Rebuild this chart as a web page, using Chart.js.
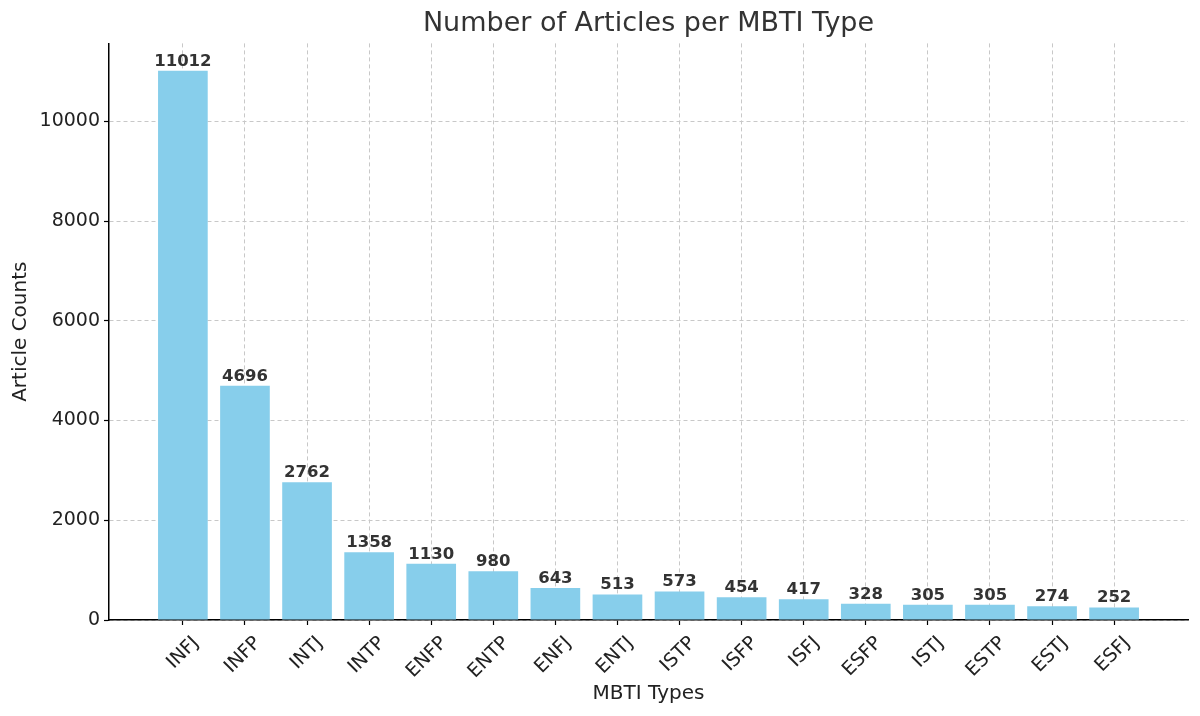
<!DOCTYPE html>
<html>
<head>
<meta charset="utf-8">
<script src="https://cdn.jsdelivr.net/npm/chart.js@4.4.1/dist/chart.umd.min.js"></script>
<style>
  html, body { margin: 0; padding: 0; background: #fff; }
</style>
</head>
<body>
<canvas id="mbtiChart" width="1200" height="716"></canvas>
<script>
const mbtiTypes = ['INFJ', 'INFP', 'INTJ', 'INTP', 'ENFP', 'ENTP', 'ENFJ', 'ENTJ',
  'ISTP', 'ISFP', 'ISFJ', 'ESFP', 'ISTJ', 'ESTP', 'ESTJ', 'ESFJ'];
const articleCounts = [11012, 4696, 2762, 1358, 1130, 980, 643, 513,
  573, 454, 417, 328, 305, 305, 274, 252];
const yTicks = [0, 2000, 4000, 6000, 8000, 10000];

const FONT = "'DejaVu Sans', sans-serif";

// texte au-dessus de chaque barre
const barLabels = {
  id: 'barLabels',
  afterDraw(chart) {
    const ctx = chart.ctx;
    const meta = chart.getDatasetMeta(0);
    ctx.save();
    ctx.font = "bold 16.5px " + FONT;
    ctx.fillStyle = '#333';
    ctx.textAlign = 'center';
    ctx.textBaseline = 'bottom';
    meta.data.forEach((bar, i) => {
      ctx.fillText(String(articleCounts[i]), bar.x, bar.y - 1);
    });
    ctx.restore();
  }
};

const yMax = Math.max(...articleCounts) * 1.05;

const gridOpts = {
  color: '#c8c8c8',
  tickColor: '#000',
  tickBorderDash: [],
  tickLength: 5,
  tickWidth: 1.2,
  lineWidth: 1
};

new Chart(document.getElementById('mbtiChart').getContext('2d'), {
  type: 'bar',
  data: {
    datasets: [{
      label: 'Article Counts',
      data: articleCounts.map((v, i) => ({ x: i, y: v })),
      backgroundColor: '#87CEEB',
      borderWidth: 0,
      categoryPercentage: 1.0,
      barPercentage: 0.8
    }]
  },
  options: {
    responsive: false,
    animation: false,
    devicePixelRatio: 1,
    layout: { padding: { left: 0, right: 12, top: 0, bottom: 0 } },
    plugins: {
      legend: { display: false },
      tooltip: { enabled: false },
      title: {
        display: true,
        fullSize: false,
        text: 'Number of Articles per MBTI Type',
        color: '#333',
        font: { family: FONT, size: 27, weight: 'normal' },
        padding: { top: 8, bottom: 3 }
      }
    },
    scales: {
      x: {
        type: 'linear',
        min: -1.19,
        max: 15 + 1.19,
        offset: false,
        z: 1,
        afterBuildTicks(scale) {
          scale.ticks = mbtiTypes.map((_, i) => ({ value: i }));
        },
        afterFit(scale) { scale.height = 96; },
        ticks: {
          stepSize: 1,
          includeBounds: false,
          autoSkip: false,
          maxRotation: 45,
          minRotation: 45,
          labelOffset: 13,
          color: '#222',
          padding: 7,
          font: { family: FONT, size: 19 },
          callback: (v) => mbtiTypes[v] ?? ''
        },
        grid: Object.assign({ offset: false }, gridOpts),
        border: { color: '#000', width: 1.5, dash: [4, 3] },
        title: {
          display: true,
          text: 'MBTI Types',
          color: '#222',
          font: { family: FONT, size: 20 },
          padding: { top: 0, bottom: 10 }
        }
      },
      y: {
        min: 0,
        max: yMax,
        z: 1,
        afterBuildTicks(scale) {
          scale.ticks = yTicks.map(v => ({ value: v }));
        },
        afterFit(scale) { scale.width = 109; },
        ticks: {
          color: '#222',
          padding: 4,
          font: { family: FONT, size: 19 },
          callback: (v) => String(v)
        },
        grid: gridOpts,
        border: { color: '#000', width: 1.5, dash: [4, 3] },
        title: {
          display: true,
          text: 'Article Counts',
          color: '#222',
          font: { family: FONT, size: 20 },
          padding: { top: 9, bottom: 0 }
        }
      }
    }
  },
  plugins: [barLabels]
});
</script>
</body>
</html>
